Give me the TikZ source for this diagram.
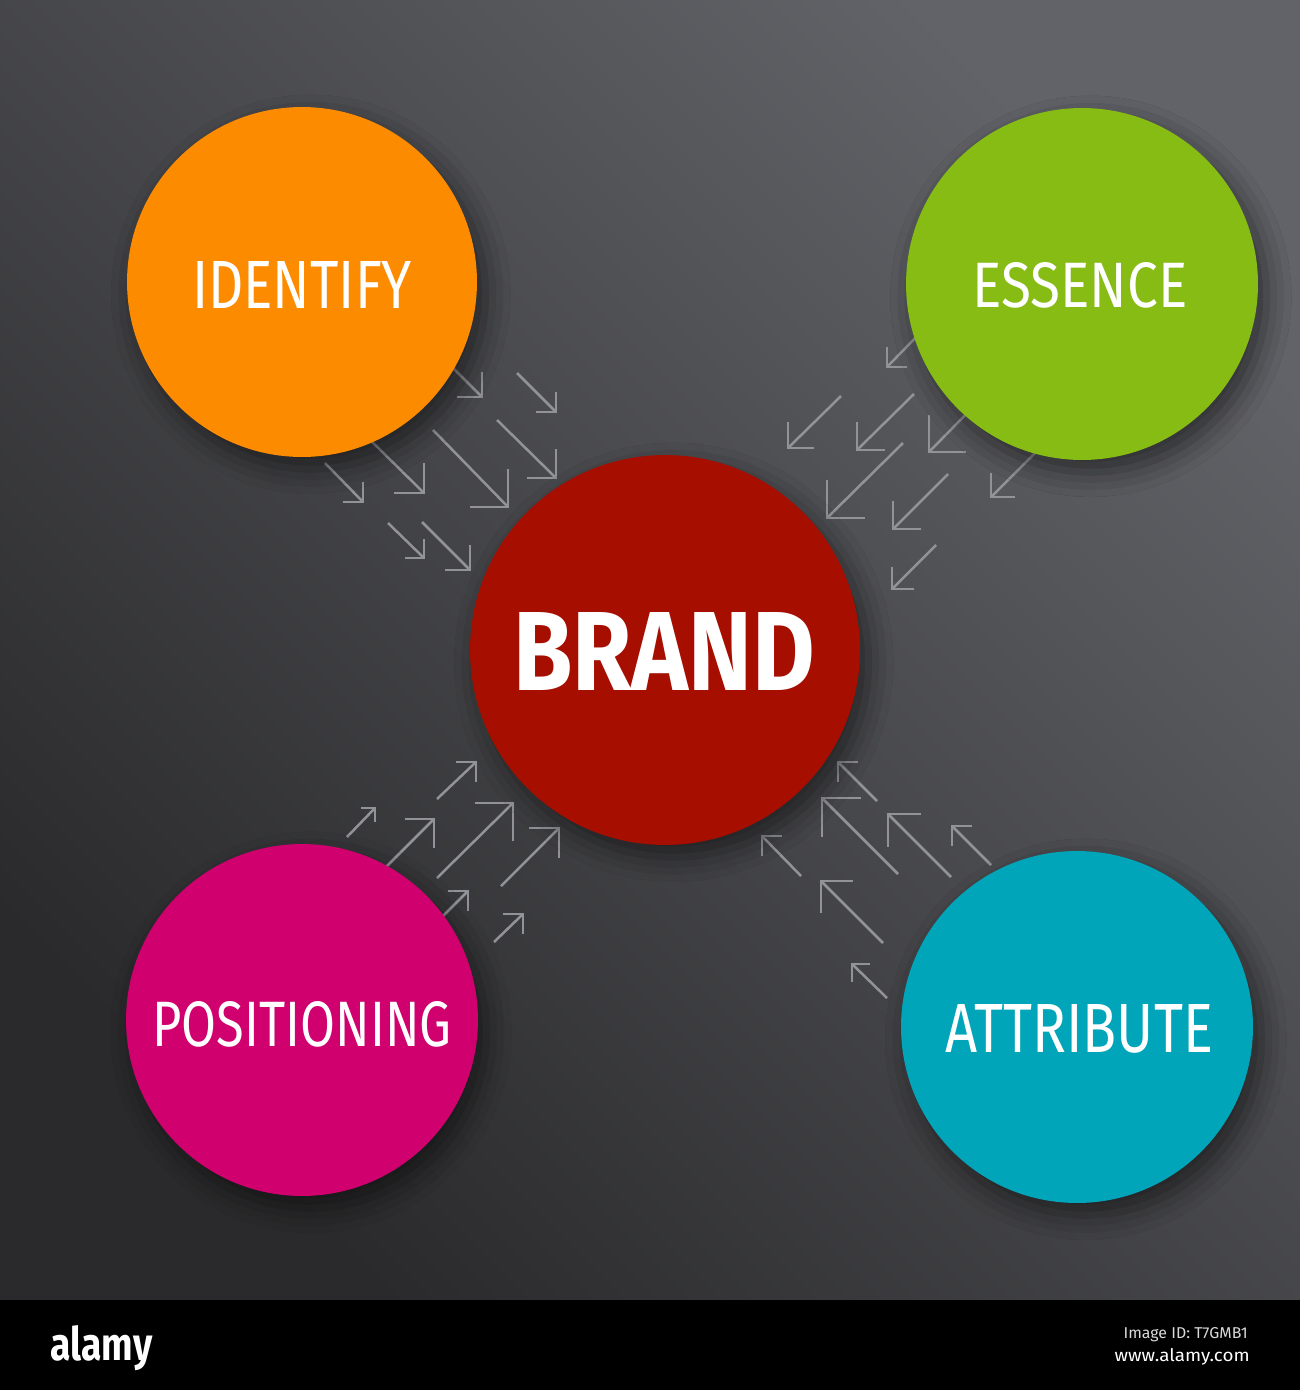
\documentclass[tikz,border=0pt]{standalone}
\usepackage{fontspec}
\setmainfont{Fira Sans}
\usepackage{graphicx}
\usetikzlibrary{shadows.blur}
\definecolor{bglight}{RGB}{98,99,104}
\definecolor{bgdark}{RGB}{42,42,44}
\definecolor{arrowc}{RGB}{146,147,152}
\definecolor{corange}{RGB}{253,139,0}
\definecolor{cgreen}{RGB}{134,188,20}
\definecolor{cred}{RGB}{166,14,0}
\definecolor{cmag}{RGB}{208,0,111}
\definecolor{cteal}{RGB}{0,165,186}
% arrows: tail x, tail y, tip x, tip y, head length (pixel units, y downward)
\newcommand\aSE[5]{\draw[arrowline] (#1,#2) -- (#3,#4); \draw[arrowline] (#3-#5,#4) -- (#3,#4) -- (#3,#4-#5);}
\newcommand\aSW[5]{\draw[arrowline] (#1,#2) -- (#3,#4); \draw[arrowline] (#3+#5,#4) -- (#3,#4) -- (#3,#4-#5);}
\newcommand\aNE[5]{\draw[arrowline] (#1,#2) -- (#3,#4); \draw[arrowline] (#3-#5,#4) -- (#3,#4) -- (#3,#4+#5);}
\newcommand\aNW[5]{\draw[arrowline] (#1,#2) -- (#3,#4); \draw[arrowline] (#3+#5,#4) -- (#3,#4) -- (#3,#4+#5);}
\begin{document}
\begin{tikzpicture}[x=0.02cm,y=-0.02cm,
  arrowline/.style={draw=arrowc, line width=0.05cm},
  bubble/.style={circle, draw=none, inner sep=0pt,
    blur shadow={shadow xshift=5pt, shadow yshift=-7pt, shadow blur radius=14pt, shadow opacity=50}},
  lbl/.style={text=white, inner sep=0pt}]
\path[use as bounding box] (0,0) rectangle (1300,1390);
% background
\shade[shading=axis, top color=bglight, bottom color=bgdark, shading angle=-45] (0,0) rectangle (1300,1300);
\fill[black] (0,1300) rectangle (1300,1390);
% arrows towards BRAND
\aSE{445}{360}{482}{397}{25}
\aSE{517}{373}{556}{412}{20}
\aSE{497}{420}{556}{478}{29}
\aSE{433}{430}{508}{507}{38}
\aSE{360}{430}{424}{493}{30}
\aSE{325}{463}{363}{502}{20}
\aSE{388}{523}{424}{558}{19}
\aSE{422}{522}{470}{570}{25}
\aSW{923}{330}{887}{367}{20}
\aSW{841}{396}{788}{448}{26}
\aSW{914}{394}{857}{450}{28}
\aSW{975}{405}{929}{452}{37}
\aSW{903}{443}{827}{518}{38}
\aSW{948}{474}{893}{529}{28}
\aSW{1043}{445}{991}{497}{24}
\aSW{936}{545}{892}{589}{22}
\aNE{437}{799}{476}{762}{20}
\aNE{347}{837}{375}{808}{14}
\aNE{375}{878}{434}{819}{29}
\aNE{437}{878}{513}{803}{38}
\aNE{501}{886}{559}{828}{30}
\aNE{432}{927}{468}{891}{20}
\aNE{494}{942}{523}{914}{20}
\aNW{877}{801}{838}{762}{20}
\aNW{898}{874}{822}{798}{39}
\aNW{951}{877}{888}{814}{33}
\aNW{991}{865}{952}{826}{20}
\aNW{801}{876}{762}{836}{20}
\aNW{883}{943}{821}{881}{32}
\aNW{887}{998}{852}{964}{18}
% circles
\node[bubble, fill=corange, minimum size=7cm] (identify) at (302,282) {};
\node[bubble, fill=cgreen, minimum size=7.04cm] (essence) at (1082,284) {};
\node[bubble, fill=cmag, minimum size=7.04cm] (positioning) at (302,1020) {};
\node[bubble, fill=cteal, minimum size=7.04cm] (attribute) at (1077,1027) {};
\node[bubble, fill=cred, minimum size=7.8cm] (brand) at (665,650) {};
% labels
\node[lbl] (identifyT) at (302,285) {\resizebox{4.4cm}{0.94cm}{IDENTIFY}};
\node[lbl] (essenceT) at (1080,285) {\resizebox{4.3cm}{0.9cm}{ESSENCE}};
\node[lbl] (positioningT) at (302,1024) {\resizebox{5.98cm}{0.9cm}{POSITIONING}};
\node[lbl] (attributeT) at (1079,1029) {\resizebox{5.36cm}{0.96cm}{ATTRIBUTE}};
\node[lbl] (brandT) at (664,651) {\resizebox{6.04cm}{1.56cm}{\bfseries BRAND}};
% footer
\node[lbl, anchor=base west] (logo) at (50,1360) {\resizebox{2.04cm}{0.7cm}{\bfseries alamy}};
\node[lbl, text=white!85!black, anchor=base east] (imgid) at (1248,1338) {\resizebox{2.48cm}{0.22cm}{Image ID: T7GMB1}};
\node[lbl, anchor=base east] (www) at (1250,1361) {\resizebox{2.7cm}{0.26cm}{www.alamy.com}};
\end{tikzpicture}
\end{document}
